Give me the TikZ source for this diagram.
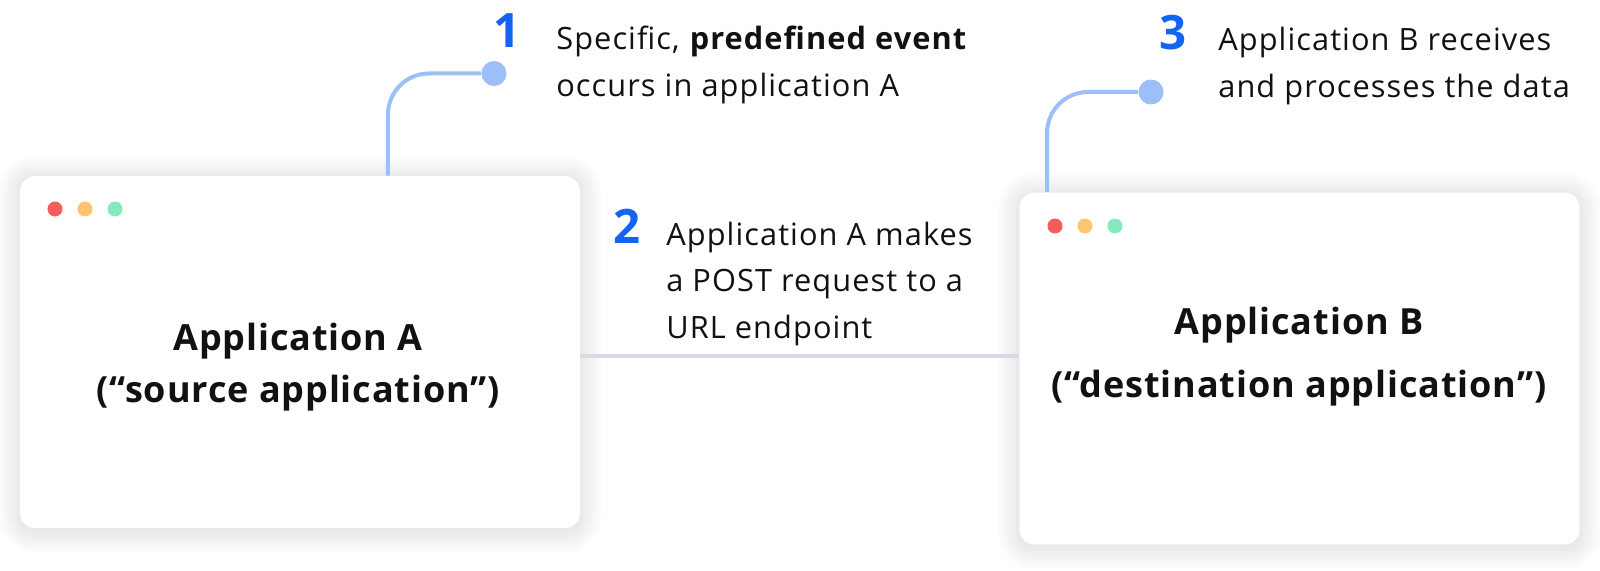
\documentclass[tikz,border=0pt]{standalone}
\usepackage{fontspec}
\setmainfont{Open Sans}
\usetikzlibrary{backgrounds}
\definecolor{numblue}{HTML}{1463F3}
\definecolor{linkblue}{HTML}{9DBFF9}
\definecolor{flowgray}{HTML}{D5DAE4}
\definecolor{dotred}{HTML}{F55D5A}
\definecolor{dotyellow}{HTML}{FDC56F}
\definecolor{dotgreen}{HTML}{84E9BC}
\definecolor{ink}{HTML}{111111}
\tikzset{
  appbox/.style={fill=white, rounded corners=0.3cm, minimum width=11.2cm, minimum height=7.04cm, inner sep=0pt},
  title/.style={font=\addfontfeatures{LetterSpace=2.5}\fontsize{20.5}{#1}\selectfont\bfseries, align=center, text=ink},
  title/.default=30,
  note/.style={font=\addfontfeatures{LetterSpace=3.5}\fontsize{17.5}{26.7}\selectfont, align=left, anchor=west, inner sep=0pt, text=ink},
  num/.style={font=\fontsize{27}{27}\selectfont\bfseries, text=numblue, inner sep=0pt},
  link/.style={draw=linkblue, line width=0.08cm, rounded corners=0.82cm},
  pindot/.style={circle, fill=linkblue, minimum size=0.5cm, inner sep=0pt},
  flow/.style={draw=flowgray, line width=0.07cm},
  wdot/.style={circle, minimum size=0.3cm, inner sep=0pt},
}
\begin{document}
\begin{tikzpicture}[x=0.02cm, y=-0.02cm]
\useasboundingbox (0,0) rectangle (1600,571);
\node[appbox] (AppA) at (300,352) {};
\node[appbox] (AppB) at (1299.5,368.5) {};
\begin{scope}[on background layer]
\fill[white] (0,0) rectangle (1600,571);
\foreach \r in {1,...,7} {
  \fill[black, opacity=0.012, rounded corners=0.3cm+\r*0.06cm]
    ([shift={(-\r*3,-\r*3+2)}]AppA.north west) rectangle ([shift={(\r*3,\r*3+3)}]AppA.south east);
  \fill[black, opacity=0.012, rounded corners=0.3cm+\r*0.06cm]
    ([shift={(-\r*3,-\r*3+2)}]AppB.north west) rectangle ([shift={(\r*3,\r*3+3)}]AppB.south east);
}
\end{scope}

% window buttons
\foreach \c [count=\i] in {dotred,dotyellow,dotgreen} {
  \node[wdot, fill=\c] (A\i) at (25+30*\i,209) {};
  \node[wdot, fill=\c] (B\i) at (1025+30*\i,226) {};
}

\node[title] (TA) at (298,367) {Application A\\(“source application”)};
\node[title=36] (TB) at (1299,357) {Application B\\(“destination application”)};

% steps
\node[num] (N1) at (507,31) {1};
\node[note] (T1) at (556,65) {Specific, \textbf{predefined event}\\occurs in application A};
\node[num] (N2) at (627,226) {2};
\node[note] (T2) at (666,284) {Application A makes\\a POST request to a\\URL endpoint};
\node[num] (N3) at (1173,33) {3};
\node[note] (T3) at (1218,66) {Application B receives\\and processes the data};

\node[pindot] (P1) at (494,73.5) {};
\node[pindot] (P3) at (1151,92) {};

\draw[link] ([xshift=1.76cm]AppA.north) |- (P1);
\draw[link] ([xshift=-5.05cm]AppB.north) |- (P3);
\draw[flow] ([yshift=-0.08cm]AppA.east) -- ([yshift=-0.08cm]AppA.east -| AppB.west);
\end{tikzpicture}
\end{document}
